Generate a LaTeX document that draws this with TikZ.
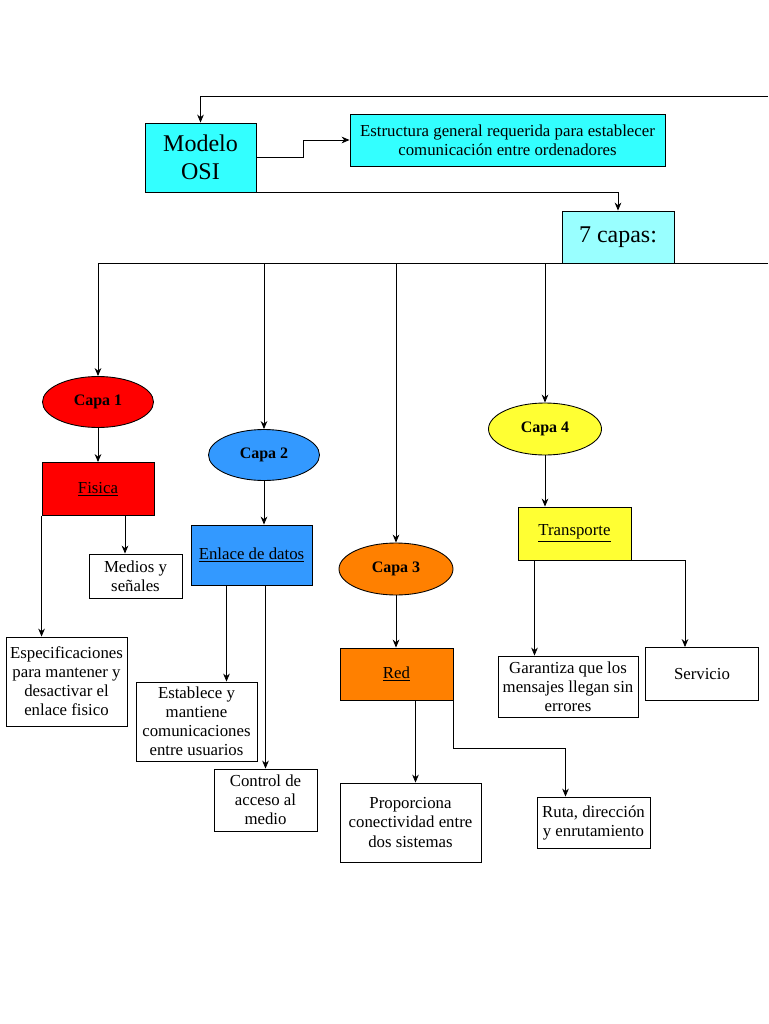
\documentclass[tikz,border=0pt]{standalone}
\usepackage{fontspec}
\setmainfont{Liberation Serif}
\usetikzlibrary{shapes.geometric,calc,arrows.meta}
\definecolor{cian}{HTML}{33FFFF}
\definecolor{ciancl}{HTML}{99FFFF}
\definecolor{azul}{HTML}{3399FF}
\definecolor{naranja}{HTML}{FF8000}
\definecolor{amarillo}{HTML}{FFFF33}
\newdimen\px \px=0.75pt
\begin{document}
\begin{tikzpicture}[x=0.75pt, y=-0.75pt, font=\fontsize{12.6}{14.3}\selectfont, line width=0.65pt, >={Stealth[length=6pt,width=5pt]},
	caja/.style={draw, rectangle, inner sep=0pt, align=center},
	capa/.style={draw, ellipse, inner sep=0pt, font=\fontsize{12}{14.3}\selectfont\bfseries}]
	\useasboundingbox (0,0) rectangle (768,1024);
	\node[caja, fill=cian, minimum width=111\px, minimum height=69\px, font=\fontsize{18}{21}\selectfont] (modelo) at (200.5,157.5) {Modelo\\OSI};
	\node[caja, fill=cian, minimum width=315\px, minimum height=52\px] (estr) at (507.5,140) {Estructura general requerida para establecer\\comunicaci\'on entre ordenadores};
	\node[caja, fill=ciancl, minimum width=112\px, minimum height=52\px, font=\fontsize{18}{21}\selectfont] (capas) at (618,237) {7 capas:};
	\node[capa, fill=red, minimum width=111\px, minimum height=51\px] (c1) at (98,402) {Capa 1};
	\node[capa, fill=azul, minimum width=111\px, minimum height=51\px] (c2) at (264,455) {Capa 2};
	\node[capa, fill=naranja, minimum width=114\px, minimum height=52\px] (c3) at (396,569) {Capa 3};
	\node[capa, fill=amarillo, minimum width=113\px, minimum height=52\px] (c4) at (545,429) {Capa 4};
	\node[caja, fill=red, minimum width=112\px, minimum height=53\px] (fisica) at (98,489) {\underline{Fisica}};
	\node[caja, minimum width=93\px, minimum height=44\px] (medios) at (135.5,576) {Medios y\\se\~nales};
	\node[caja, minimum width=121\px, minimum height=89\px] (espec) at (66.5,681.5) {Especificaciones\\para mantener y\\desactivar el\\enlace fisico};
	\node[caja, fill=azul, minimum width=121\px, minimum height=60\px] (enlace) at (251.5,555) {\underline{Enlace de datos}};
	\node[caja, minimum width=121\px, minimum height=79\px] (establece) at (196.5,721.5) {Establece y\\mantiene\\comunicaciones\\entre usuarios};
	\node[caja, minimum width=103\px, minimum height=62\px] (control) at (265.5,800) {Control de\\acceso al\\medio};
	\node[caja, fill=naranja, minimum width=113\px, minimum height=52\px] (red) at (396.5,674) {\underline{Red}};
	\node[caja, minimum width=141\px, minimum height=79\px] (propor) at (410.5,822.5) {Proporciona\\conectividad entre\\dos sistemas};
	\node[caja, minimum width=113\px, minimum height=51\px] (ruta) at (593.5,822.5) {Ruta, direcci\'on\\y enrutamiento};
	\node[caja, fill=amarillo, minimum width=113\px, minimum height=53\px] (transp) at (574.5,533.5) {\underline{Transporte}};
	\node[caja, minimum width=140\px, minimum height=61\px] (garant) at (568,686.5) {Garantiza que los\\mensajes llegan sin\\errores};
	\node[caja, minimum width=113\px, minimum height=53\px] (servicio) at (702,674) {Servicio};
	\coordinate (arribaR) at (768,96);
	\coordinate (busR) at (768,0);
	% conectores de arriba
	\draw[->] (arribaR) -| (modelo.north);
	\draw[->] (modelo.east) -- ++(47,0) |- (estr.west);
	\draw[->] (modelo.south east) -| (capas.north);
	\draw (capas.south -| busR) -- (capas.south -| c1.north);
	\draw[->] (capas.south -| c1.north) -- (c1.north);
	\draw[->] (capas.south -| c2.north) -- (c2.north);
	\draw[->] (capas.south -| c3.north) -- (c3.north);
	\draw[->] (capas.south -| c4.north) -- (c4.north);
	% capa 1
	\draw[->] (c1) -- (fisica);
	\draw[->] (fisica.south) ++(27,0) coordinate (f1) -- (f1 |- medios.north);
	\draw[->] (fisica.south west) -- (fisica.south west |- espec.north);
	% capa 2
	\draw[->] (c2) -- (c2 |- enlace.north);
	\draw[->] (enlace.south) ++(-25,0) coordinate (e1) -- (e1 |- establece.north);
	\draw[->] (enlace.south -| control.north) -- (control.north);
	% capa 3
	\draw[->] (c3) -- (c3 |- red.north);
	\draw[->] (red.south) ++(19,0) coordinate (r1) -- (r1 |- propor.north);
	\draw[->] (red.south east) -- ++(0,48) -| ($(ruta.north)+(-28,0)$);
	% capa 4
	\draw[->] (c4) -- (c4 |- transp.north);
	\draw[->] (transp.south) ++(-40,0) coordinate (t1) -- (t1 |- garant.north);
	\draw[->] (transp.south east) -| ($(servicio.north)+(-17,0)$);
\end{tikzpicture}
\end{document}
